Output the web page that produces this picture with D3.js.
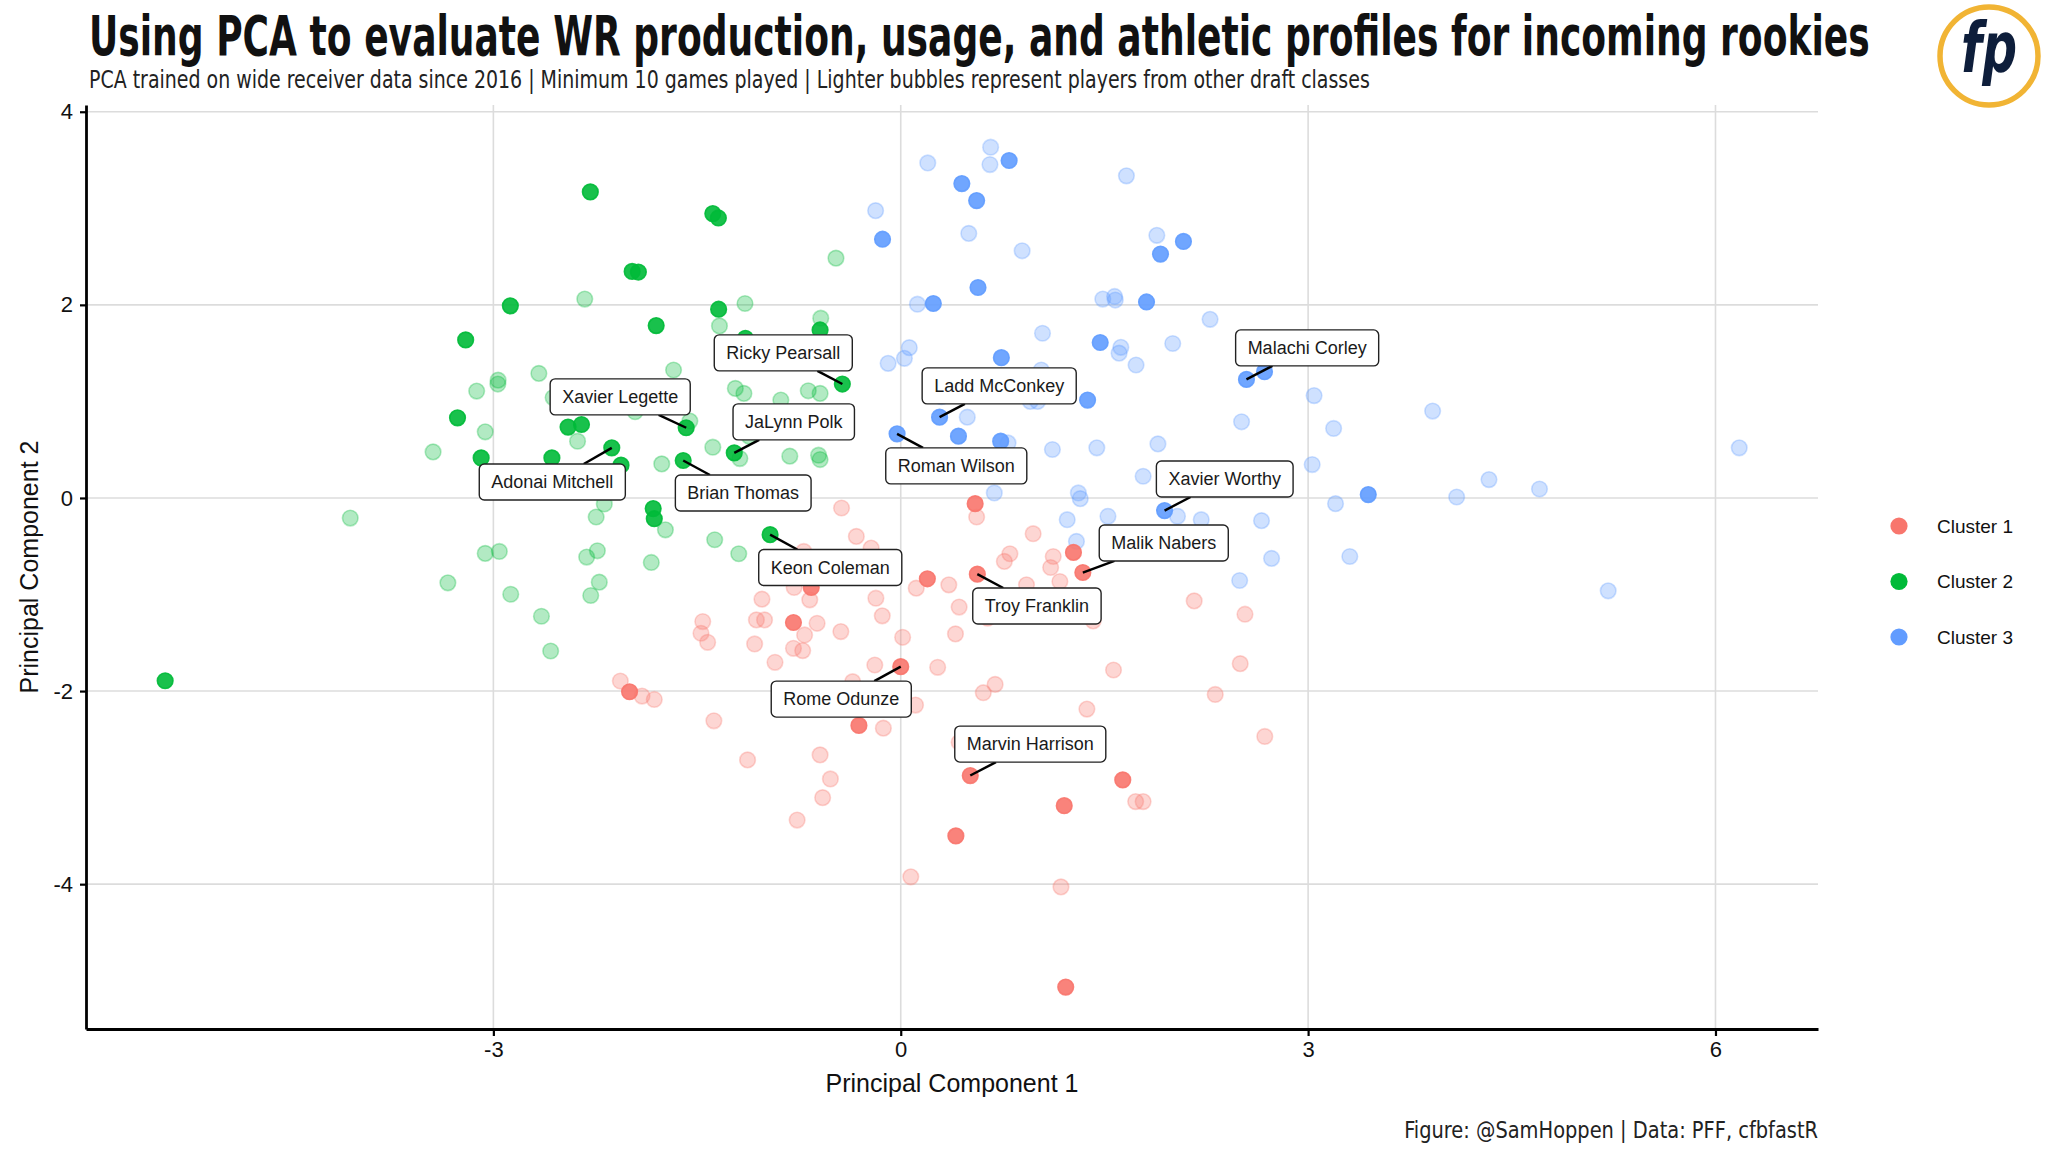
<!DOCTYPE html>
<html>
<head>
<meta charset="utf-8">
<style>
  body { margin: 0; background: #fff; }
  svg { display: block; }
  .axis text { font: 22px "Liberation Sans", Arial, sans-serif; fill: #111; }
  .axis path, .axis line { stroke: #000; }
</style>
</head>
<body>
<div id="chart"></div>
<script src="https://d3js.org/d3.v7.min.js"></script>
<script>
  // ---- data ----
  const clusters = ["Cluster 1", "Cluster 2", "Cluster 3"];
  const clusterColors = ["#F8766D", "#00BA38", "#619CFF"];

  const xTicks = [-3, 0, 3, 6];
  const yTicks = [-4, -2, 0, 2, 4];

  // players from other draft classes (light bubbles)
  const otherC1 = [
    [0.559, -0.197], [-0.436, -0.104], [-0.327, -0.398], [-0.218, -0.519], [-0.714, -0.554],
    [0.975, -0.37], [0.804, -0.578], [0.763, -0.657], [1.123, -0.606], [1.104, -0.72],
    [0.114, -0.934], [0.354, -0.9], [0.926, -0.9], [1.172, -0.865], [2.161, -1.066],
    [2.535, -1.204], [0.43, -1.13], [0.64, -1.246], [1.417, -1.273], [0.403, -1.408],
    [-0.054, -0.813], [-0.785, -0.927], [-0.67, -1.055], [-1.022, -1.048], [-0.183, -1.038],
    [-0.136, -1.221], [-1.458, -1.28], [-1.471, -1.401], [-1.422, -1.495], [-1.063, -1.263],
    [-1.003, -1.263], [-0.616, -1.298], [-0.708, -1.419], [-0.441, -1.384], [-1.076, -1.512],
    [-0.79, -1.557], [-0.722, -1.581], [-0.926, -1.702], [-0.191, -1.73], [0.014, -1.443],
    [0.272, -1.754], [1.567, -1.782], [0.695, -1.931], [0.608, -2.017], [-0.354, -1.903],
    [2.316, -2.035], [2.5, -1.716], [0.109, -2.145], [1.371, -2.187], [-2.065, -1.896],
    [-1.905, -2.052], [-1.815, -2.087], [-1.376, -2.308], [-0.128, -2.384], [-1.128, -2.713],
    [-0.594, -2.661], [-0.518, -2.91], [-0.575, -3.104], [-0.763, -3.336], [0.43, -2.53],
    [1.73, -3.145], [1.785, -3.145], [0.074, -3.924], [1.18, -4.028], [2.681, -2.47]
  ];
  const otherC2 = [
    [-2.327, 2.06], [-2.665, 1.29], [-2.965, 1.22], [-2.967, 1.18], [-3.123, 1.107],
    [-2.56, 1.04], [-1.97, 1.145], [-0.477, 2.484], [-1.147, 2.014], [-1.335, 1.782],
    [-0.589, 1.862], [-1.027, 1.43], [-1.673, 1.325], [-1.218, 1.135], [-1.155, 1.083],
    [-0.883, 1.014], [-0.681, 1.11], [-0.594, 1.083], [-3.06, 0.685], [-3.444, 0.477],
    [-2.38, 0.588], [-1.956, 0.893], [-1.76, 0.353], [-2.183, -0.062], [-2.243, -0.197],
    [-1.733, -0.33], [-4.054, -0.208], [-3.06, -0.574], [-2.956, -0.554], [-2.313, -0.612],
    [-2.234, -0.547], [-1.837, -0.668], [-3.335, -0.879], [-2.872, -0.997], [-2.22, -0.872],
    [-2.283, -1.01], [-2.646, -1.225], [-2.578, -1.585], [-1.553, 0.796], [-1.384, 0.526],
    [-1.185, 0.408], [-1.117, 0.64], [-0.817, 0.433], [-0.605, 0.443], [-0.594, 0.398],
    [-1.008, 0.121], [-1.37, -0.433], [-1.193, -0.578]
  ];
  const otherC3 = [
    [-0.185, 2.976], [0.662, 3.633], [0.199, 3.47], [0.657, 3.453], [1.662, 3.336],
    [0.501, 2.74], [0.894, 2.56], [1.886, 2.72], [0.123, 2.007], [1.488, 2.06],
    [1.575, 2.087], [1.58, 2.05], [2.278, 1.85], [1.044, 1.706], [1.621, 1.56],
    [1.608, 1.5], [2.003, 1.6], [1.733, 1.377], [0.063, 1.557], [0.027, 1.446],
    [-0.093, 1.394], [1.035, 1.325], [0.954, 1.0], [1.008, 1.0], [0.3, 1.05],
    [3.216, 1.5], [3.044, 1.06], [3.917, 0.9], [0.49, 0.837], [0.79, 0.57],
    [1.117, 0.502], [1.444, 0.519], [1.894, 0.56], [1.785, 0.225], [0.689, 0.052],
    [1.308, 0.052], [1.322, -0.007], [1.226, -0.225], [1.526, -0.19], [1.294, -0.45],
    [2.038, -0.19], [2.213, -0.225], [2.33, -0.52], [2.51, 0.789], [3.188, 0.72],
    [6.175, 0.519], [3.03, 0.346], [3.202, -0.059], [4.094, 0.01], [4.332, 0.19],
    [4.704, 0.093], [2.657, -0.235], [2.731, -0.626], [3.307, -0.606], [2.496, -0.855],
    [5.21, -0.962]
  ];

  // incoming rookies (solid bubbles)
  const rookieC1 = [
    [0.548, -0.059], [1.272, -0.564], [1.341, -0.772], [0.564, -0.789], [0.196, -0.837],
    [-0.659, -0.927], [-0.79, -1.29], [0, -1.747], [-1.997, -2.007], [-0.308, -2.356],
    [0.512, -2.875], [1.635, -2.92], [1.204, -3.187], [0.406, -3.5], [1.215, -5.066]
  ];
  const rookieC2 = [
    [-2.286, 3.17], [-1.978, 2.346], [-1.932, 2.34], [-2.875, 1.99], [-3.204, 1.637],
    [-1.801, 1.785], [-1.384, 2.945], [-1.343, 2.9], [-1.341, 1.955], [-0.594, 1.74],
    [-1.144, 1.654], [-0.43, 1.18], [-3.264, 0.83], [-3.09, 0.415], [-2.45, 0.734],
    [-2.351, 0.761], [-2.128, 0.519], [-2.569, 0.415], [-2.06, 0.34], [-1.823, -0.11],
    [-1.815, -0.215], [-5.417, -1.893], [-1.58, 0.727], [-1.602, 0.388], [-1.226, 0.467],
    [-0.962, -0.38]
  ];
  const rookieC3 = [
    [-0.134, 2.68], [0.798, 3.495], [0.45, 3.256], [0.559, 3.08], [2.082, 2.657],
    [1.913, 2.526], [0.569, 2.18], [0.24, 2.014], [1.81, 2.03], [1.469, 1.61],
    [0.741, 1.453], [1.376, 1.014], [2.546, 1.228], [2.679, 1.308], [0.286, 0.837],
    [-0.027, 0.664], [0.425, 0.64], [0.736, 0.588], [1.943, -0.131], [3.443, 0.035]
  ];

  // labelled rookies: point they belong to and where the repelled label sits (data units)
  const labelNames = ["Ricky Pearsall", "Ladd McConkey", "Malachi Corley", "Xavier Legette",
    "JaLynn Polk", "Adonai Mitchell", "Brian Thomas", "Roman Wilson", "Xavier Worthy",
    "Malik Nabers", "Keon Coleman", "Troy Franklin", "Rome Odunze", "Marvin Harrison"];
  const labelPointX = [-0.43, 0.286, 2.546, -1.58, -1.226, -2.128, -1.602, -0.027, 1.943, 1.341, -0.962, 0.564, 0, 0.512];
  const labelPointY = [1.18, 0.837, 1.228, 0.727, 0.467, 0.519, 0.388, 0.664, -0.131, -0.772, -0.38, -0.789, -1.747, -2.875];
  const labelBoxX = [-0.865, 0.725, 2.993, -2.066, -0.788, -2.566, -1.16, 0.409, 2.386, 1.937, -0.519, 1.003, -0.438, 0.954];
  const labelBoxY = [1.503, 1.161, 1.554, 1.047, 0.788, 0.166, 0.052, 0.332, 0.197, -0.466, -0.72, -1.119, -2.083, -2.549];

  const titleText = "Using PCA to evaluate WR production, usage, and athletic profiles for incoming rookies";
  const subtitleText = "PCA trained on wide receiver data since 2016 | Minimum 10 games played | Lighter bubbles represent players from other draft classes";
  const captionText = "Figure: @SamHoppen | Data: PFF, cfbfastR";

  // ---- chart ----
  const W = 2048, H = 1152;
  const plot = { left: 86, right: 1818, top: 105, bottom: 1029 };

  const svg = d3.select("#chart").append("svg")
    .attr("width", W)
    .attr("height", H)
    .style("background", "#fff");

  const x = d3.scaleLinear().domain([-6.0, 6.755]).range([plot.left, plot.right]);
  const y = d3.scaleLinear().domain([-5.5, 4.07]).range([plot.bottom, plot.top]);

  // grid
  const grid = svg.append("g");
  grid.selectAll(".vg").data(xTicks).enter().append("line")
    .attr("x1", d => x(d)).attr("x2", d => x(d))
    .attr("y1", plot.top).attr("y2", plot.bottom)
    .attr("stroke", "#dcdcdc").attr("stroke-width", 1.6);
  grid.selectAll(".hg").data(yTicks).enter().append("line")
    .attr("x1", plot.left).attr("x2", plot.right)
    .attr("y1", d => y(d)).attr("y2", d => y(d))
    .attr("stroke", "#dcdcdc").attr("stroke-width", 1.6);

  // points
  const toPts = (arr, c, rookie) => arr.map(p => ({ x: p[0], y: p[1], c: c, rookie: rookie }));
  const others = [].concat(toPts(otherC1, 0, false), toPts(otherC2, 1, false), toPts(otherC3, 2, false));
  const rookies = [].concat(toPts(rookieC1, 0, true), toPts(rookieC2, 1, true), toPts(rookieC3, 2, true));

  const drawPts = (data, op) => {
    svg.append("g").selectAll("circle")
      .data(data)
      .enter().append("circle")
      .attr("cx", d => x(d.x))
      .attr("cy", d => y(d.y))
      .attr("r", 7.8)
      .attr("fill", d => clusterColors[d.c])
      .attr("fill-opacity", op)
      .attr("stroke", d => clusterColors[d.c])
      .attr("stroke-opacity", op)
      .attr("stroke-width", 1.6);
  };
  drawPts(others, 0.3);
  drawPts(rookies, 0.9);

  // axes
  svg.append("g")
    .attr("class", "axis")
    .attr("transform", "translate(0," + plot.bottom + ")")
    .call(d3.axisBottom(x).tickValues(xTicks).tickSize(7).tickSizeOuter(0).tickPadding(5).tickFormat(d => String(d)));
  svg.append("g")
    .attr("class", "axis")
    .attr("transform", "translate(" + plot.left + ",0)")
    .call(d3.axisLeft(y).tickValues(yTicks).tickSize(6).tickSizeOuter(0).tickPadding(7).tickFormat(d => String(d)));
  svg.selectAll(".axis .domain").attr("stroke-width", 2.8);
  svg.selectAll(".axis .tick line").attr("stroke-width", 2.2);

  svg.append("text")
    .attr("x", (plot.left + plot.right) / 2)
    .attr("y", 1092)
    .attr("text-anchor", "middle")
    .style("font", "25px 'Liberation Sans', Arial, sans-serif")
    .attr("fill", "#111")
    .text("Principal Component 1");

  svg.append("text")
    .attr("transform", "translate(29," + ((plot.top + plot.bottom) / 2) + ") rotate(-90)")
    .attr("dy", "0.35em")
    .attr("text-anchor", "middle")
    .style("font", "25px 'Liberation Sans', Arial, sans-serif")
    .attr("fill", "#111")
    .text("Principal Component 2");

  // labels (repel style)
  const lab = svg.append("g");
  labelNames.forEach((name, i) => {
    const px = x(labelPointX[i]), py = y(labelPointY[i]);
    const cx = x(labelBoxX[i]), cy = y(labelBoxY[i]);
    const g = lab.append("g");
    const line = g.append("line");
    const rect = g.append("rect");
    const t = g.append("text")
      .attr("x", cx).attr("y", cy)
      .attr("dy", "0.35em")
      .attr("text-anchor", "middle")
      .style("font", "18px 'Liberation Sans', Arial, sans-serif")
      .attr("fill", "#1a1a1a")
      .text(name);
    const tw = t.node().getComputedTextLength();
    const hw = tw / 2 + 12, hh = 18;
    rect.attr("x", cx - hw).attr("y", cy - hh)
      .attr("width", hw * 2).attr("height", hh * 2)
      .attr("rx", 5)
      .attr("fill", "#fff")
      .attr("stroke", "#222")
      .attr("stroke-width", 1.4);
    // segment from point to box edge
    const dx = cx - px, dy = cy - py;
    const tx = dx !== 0 ? Math.abs(hw / dx) : Infinity;
    const ty = dy !== 0 ? Math.abs(hh / dy) : Infinity;
    const k = 1 - Math.min(tx, ty, 1);
    line.attr("x1", px).attr("y1", py)
      .attr("x2", px + dx * k).attr("y2", py + dy * k)
      .attr("stroke", "#000")
      .attr("stroke-width", 2.4);
  });

  // legend
  const leg = svg.append("g");
  clusters.forEach((c, i) => {
    const ly = 526 + i * 55.5;
    leg.append("circle")
      .attr("cx", 1899).attr("cy", ly).attr("r", 8.6)
      .attr("fill", clusterColors[i]);
    leg.append("text")
      .attr("x", 1937).attr("y", ly).attr("dy", "0.35em")
      .style("font", "19px 'Liberation Sans', Arial, sans-serif")
      .attr("fill", "#111")
      .text(c);
  });

  // condensed texts: squeeze horizontally with a transform so the box stays honest
  const condensed = "'Liberation Sans Narrow', 'DejaVu Sans Condensed', 'Roboto Condensed', 'Liberation Sans', sans-serif";
  const fitText = (txt, px, py, targetW, anchor, size, weight, colour, family) => {
    const g = svg.append("g");
    const t = g.append("text")
      .attr("x", 0).attr("y", 0)
      .attr("text-anchor", anchor)
      .style("font-family", family)
      .style("font-weight", weight)
      .style("font-size", size + "px")
      .attr("fill", colour)
      .text(txt);
    const s = targetW / t.node().getComputedTextLength();
    g.attr("transform", "translate(" + px + "," + py + ") scale(" + s + ",1)");
    return t;
  };
  fitText(titleText, 89, 55, 1781, "start", 55, 700, "#111", condensed);
  fitText(subtitleText, 89, 88, 1282, "start", 24, 400, "#222", condensed);
  fitText(captionText, plot.right, 1138, 414, "end", 23, 400, "#222", condensed);

  // logo
  svg.append("circle")
    .attr("cx", 1989).attr("cy", 56).attr("r", 49)
    .attr("fill", "#fff")
    .attr("stroke", "#F1B434").attr("stroke-width", 5.5);
  const fp = fitText("fp", 1989, 72, 56, "middle", 70, 700, "#0E1E3B", "'DejaVu Sans', 'Liberation Sans', sans-serif");
  fp.style("font-style", "italic");
</script>
</body>
</html>
